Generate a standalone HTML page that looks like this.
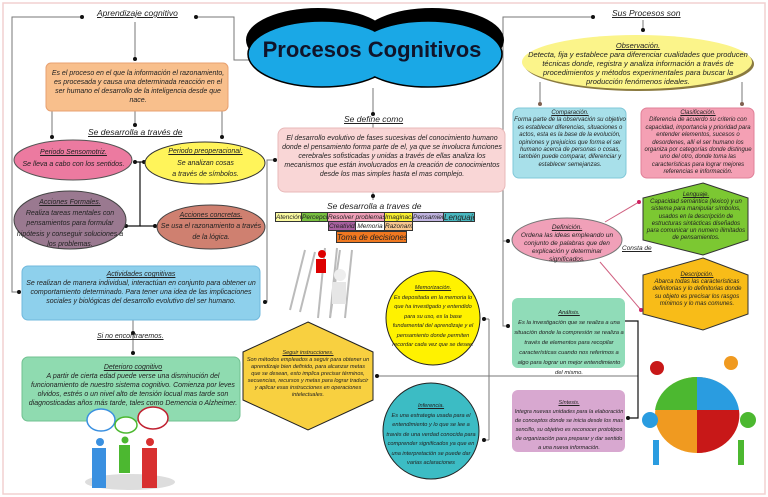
<!DOCTYPE html>
<html><head><meta charset="utf-8"><style>
body{margin:0;background:#fff}
#c{position:relative;width:768px;height:497px;overflow:hidden;background:#fff;font-family:"Liberation Sans",sans-serif;font-style:italic;color:#222}
.t{position:absolute;text-align:center;font-size:7px;line-height:9px}
.u{text-decoration:underline}
.lab{position:absolute;font-size:8.5px;text-decoration:underline;white-space:nowrap}
.tag{position:absolute;height:10px;font-size:6.5px;line-height:10px;text-align:center;border:1px solid #333;box-sizing:border-box;white-space:nowrap;overflow:hidden}
</style></head><body><div id="c">
<svg width="768" height="497" style="position:absolute;left:0;top:0">
<rect x="3" y="3" width="762" height="491" fill="none" stroke="#f2d0d0" stroke-width="1.5"/>
<g stroke="#777" stroke-width="1" fill="none">
<polyline points="82,17 12,17 12,292 19,292"/>
<polyline points="196,17 234,17 234,60 252,60"/>
<line x1="135" y1="22" x2="135" y2="59"/>
<line x1="135" y1="111" x2="135" y2="125"/>
<line x1="52" y1="111" x2="52" y2="137"/>
<line x1="222" y1="111" x2="222" y2="137"/>
<polyline points="275,160 267,160 267,302 265,302"/>
<line x1="133" y1="320" x2="133" y2="353"/>
<line x1="373" y1="88" x2="373" y2="114"/>
<line x1="373" y1="124" x2="373" y2="128"/>
<line x1="373" y1="192" x2="373" y2="200"/>
<polyline points="593,17 503,17 503,326 508,326"/>
<line x1="503" y1="241" x2="508" y2="241"/>
<line x1="643" y1="20" x2="643" y2="30"/>
<line x1="540" y1="82" x2="540" y2="104"/>
<line x1="742" y1="82" x2="742" y2="104"/>
<line x1="377" y1="376" x2="638" y2="376"/>
<line x1="489" y1="319" x2="489" y2="440"/>
<line x1="484" y1="319" x2="489" y2="319"/>
<line x1="484" y1="440" x2="489" y2="440"/>
</g>
<g stroke="#111" stroke-width="1.2" fill="none">
<polyline points="135,162 140,162 140,226 126,226"/><line x1="140" y1="226" x2="155" y2="226"/><line x1="140" y1="162" x2="144" y2="162"/>
<polyline points="625,321 638,321 638,418 628,418"/>
</g>
<g stroke="#d06080" stroke-width="1" fill="none">
<line x1="605" y1="222" x2="639" y2="202"/><line x1="600" y1="262" x2="641" y2="310"/>
</g>
<g fill="#111">
<circle cx="82" cy="17" r="2"/><circle cx="196" cy="17" r="2"/><circle cx="135" cy="59" r="2"/><circle cx="135" cy="125" r="2"/>
<circle cx="52" cy="137" r="2"/><circle cx="222" cy="137" r="2"/><circle cx="135" cy="162" r="2"/><circle cx="144" cy="162" r="2"/>
<circle cx="126" cy="226" r="2"/><circle cx="155" cy="226" r="2"/><circle cx="19" cy="292" r="2"/><circle cx="265" cy="302" r="2"/><circle cx="275" cy="160" r="2"/>
<circle cx="133" cy="333" r="2"/><circle cx="133" cy="353" r="2"/><circle cx="373" cy="114" r="2"/><circle cx="373" cy="196" r="2"/>
<circle cx="593" cy="17" r="2"/><circle cx="643" cy="30" r="2"/><circle cx="508" cy="241" r="2"/><circle cx="508" cy="326" r="2"/>
<circle cx="377" cy="376" r="2"/><circle cx="484" cy="319" r="2"/><circle cx="484" cy="440" r="2"/><circle cx="628" cy="418" r="2"/>
</g>
<circle cx="540" cy="104" r="2" fill="#806050"/><circle cx="742" cy="104" r="2" fill="#806050"/>
<circle cx="639" cy="202" r="2" fill="#d02060"/><circle cx="641" cy="310" r="2" fill="#d02060"/>
<g fill="#000"><ellipse cx="318" cy="40" rx="72" ry="32"/><ellipse cx="432" cy="40" rx="72" ry="32"/></g>
<g fill="#1aa8e6" stroke="#000" stroke-width="1.5"><ellipse cx="322" cy="54" rx="74" ry="33"/><ellipse cx="428" cy="54" rx="74" ry="33"/></g>
<g fill="#1aa8e6"><ellipse cx="322" cy="54" rx="73" ry="32"/><ellipse cx="428" cy="54" rx="73" ry="32"/></g>
<rect x="46" y="63" width="182" height="48" rx="5" fill="#f8bf8c" stroke="#e8a070"/>
<ellipse cx="73" cy="160" rx="59" ry="20" fill="#ec7aa0" stroke="#555"/>
<ellipse cx="205" cy="163" rx="60" ry="21" fill="#fff45a" stroke="#333"/>
<ellipse cx="70" cy="220" rx="56" ry="29" fill="#9a7990" stroke="#444"/>
<ellipse cx="211" cy="227" rx="54" ry="22" fill="#cf8070" stroke="#444"/>
<rect x="22" y="266" width="238" height="54" rx="6" fill="#8ed0ec" stroke="#70b8dc"/>
<rect x="22" y="357" width="218" height="64" rx="6" fill="#8fdbb0" stroke="#70c090"/>
<rect x="278" y="128" width="227" height="64" rx="7" fill="#f9d6d6" stroke="#e8b8b8"/>
<ellipse cx="639" cy="64" rx="115" ry="27" fill="#8a7a40"/>
<ellipse cx="637" cy="62" rx="115" ry="27" fill="#fbf48a"/>
<rect x="513" y="108" width="113" height="70" rx="6" fill="#a8e0ea" stroke="#80c8d8"/>
<rect x="641" y="108" width="113" height="70" rx="6" fill="#f4a0b4" stroke="#e08098"/>
<polygon points="703,183 748,198 748,240 703,255 643,240 643,198" fill="#7cc832" stroke="#333"/>
<polygon points="703,258 748,275 748,314 703,330 643,314 643,275" fill="#f8bc18" stroke="#333"/>
<ellipse cx="567" cy="240" rx="55" ry="22" fill="#f0a0b8" stroke="#777"/>
<circle cx="433" cy="318" r="47" fill="#fff200" stroke="#222"/>
<circle cx="431" cy="431" r="48" fill="#3cbcc4" stroke="#222"/>
<rect x="512" y="298" width="113" height="70" rx="6" fill="#90dcb8"/>
<rect x="512" y="390" width="113" height="62" rx="6" fill="#d8a8d0"/>
<polygon points="308,322 373,352 373,400 308,430 243,400 243,352" fill="#f8d040" stroke="#222"/>
<g stroke="#bbb" stroke-width="2" fill="none">
<line x1="290" y1="310" x2="305" y2="250"/><line x1="300" y1="312" x2="315" y2="252"/>
<line x1="318" y1="318" x2="325" y2="248"/><line x1="330" y1="318" x2="337" y2="248"/>
<line x1="330" y1="318" x2="340" y2="250"/><line x1="345" y1="318" x2="352" y2="250"/>
</g>
<circle cx="322" cy="254" r="4" fill="#d00"/><rect x="316" y="259" width="10" height="14" fill="#d00"/>
<circle cx="340" cy="275" r="6" fill="#eee"/><rect x="332" y="282" width="14" height="22" fill="#e6e6e6"/>
<ellipse cx="130" cy="482" rx="45" ry="8" fill="#ddd"/>
<g fill="#3a90e0"><circle cx="100" cy="442" r="4"/><rect x="92" y="448" width="14" height="40"/></g>
<g fill="#4cb830"><circle cx="125" cy="440" r="3.5"/><rect x="119" y="445" width="11" height="28"/></g>
<g fill="#d83030"><circle cx="150" cy="442" r="4"/><rect x="142" y="448" width="15" height="40"/></g>
<g fill="#fff" stroke-width="1.5"><ellipse cx="101" cy="420" rx="14" ry="11" stroke="#3a90e0"/><ellipse cx="126" cy="425" rx="11" ry="8" stroke="#4cb830"/><ellipse cx="153" cy="418" rx="15" ry="11" stroke="#c02030"/></g>
<ellipse cx="697" cy="415" rx="42" ry="38" fill="#f09a20"/>
<path d="M655,410 A42,38 0 0 1 697,377 L697,410 Z" fill="#4cb830"/>
<path d="M697,377 A42,38 0 0 1 739,410 L697,410 Z" fill="#2a9ce0"/>
<path d="M739,410 A42,38 0 0 1 697,453 L697,410 Z" fill="#c81818"/>
<circle cx="657" cy="368" r="7" fill="#c81818"/><circle cx="731" cy="363" r="7" fill="#f09a20"/>
<circle cx="650" cy="420" r="8" fill="#2a9ce0"/><circle cx="748" cy="420" r="8" fill="#4cb830"/>
<rect x="653" y="440" width="6" height="25" fill="#2a9ce0"/><rect x="738" y="440" width="6" height="25" fill="#4cb830"/>
</svg>
<div style="position:absolute;left:250px;top:37px;width:244px;text-align:center;font:bold 22px 'Liberation Sans',sans-serif;color:#10142a">Procesos Cognitivos</div>
<div class="lab" style="left:97px;top:8px">Aprendizaje cognitivo</div>
<div class="lab" style="left:612px;top:8px">Sus Procesos son</div>
<div class="lab" style="left:88px;top:127px">Se desarrolla a través de</div>
<div class="lab" style="left:344px;top:114px">Se define como</div>
<div class="lab" style="left:327px;top:201px;text-decoration:none">Se desarrolla a traves de</div>
<div class="lab" style="left:97px;top:333px;font-size:7px">Si no encontraremos.</div>
<div class="lab" style="left:622px;top:245px;font-size:6.5px">Consta de</div>
<div class="t" style="left:50px;top:69px;width:176px">Es el proceso en el que la información el razonamiento, es procesada y causa una determinada reacción en el ser humano el desarrollo de la inteligencia desde que nace.</div>
<div class="t" style="left:16px;top:147px;width:115px;line-height:12px"><span class="u">Periodo Sensomotriz.</span><br>Se lleva a cabo con los sentidos.</div>
<div class="t" style="left:148px;top:146px;width:115px;line-height:11.5px"><span class="u">Periodo preoperacional.</span><br>Se analizan cosas<br>a través de símbolos.</div>
<div class="t" style="left:14px;top:198px;width:112px;line-height:10.5px"><span class="u">Acciones Formales.</span><br>Realiza tareas mentales con pensamientos para formular hipótesis y conseguir soluciones a los problemas.</div>
<div class="t" style="left:158px;top:210px;width:106px;line-height:11px"><span class="u">Acciones concretas.</span><br>Se usa el razonamiento a través de la lógica.</div>
<div class="t" style="left:26px;top:270px;width:230px"><span class="u">Actividades cognitivas</span><br>Se realizan de manera individual, interactúan en conjunto para obtener un comportamiento determinado. Para tener una idea de las implicaciones sociales y biológicas del desarrollo evolutivo del ser humano.</div>
<div class="t" style="left:26px;top:363px;width:214px"><span class="u">Deterioro cognitivo</span><br>A partir de cierta edad puede verse una disminución del funcionamiento de nuestro sistema cognitivo. Comienza por leves olvidos, estrés o un nivel alto de tensión locual mas tarde son diagnosticadas años más tarde, tales como Demencia o Alzheimer.</div>
<div class="t" style="left:282px;top:134px;width:220px">El desarrollo evolutivo de fases sucesivas del conocimiento humano donde el pensamiento forma parte de el, ya que se involucra funciones cerebrales sofisticadas y unidas a través de ellas analiza los mecanismos que están involucrados en la creación de conocimientos desde los mas simples hasta el mas complejo.</div>
<div class="tag" style="left:275px;top:212px;width:27px;background:#fafaa0">Atención</div>
<div class="tag" style="left:301px;top:212px;width:27px;background:#78c040">Percepción</div>
<div class="tag" style="left:327px;top:212px;width:58px;background:#f0a0b8">Resolver problemas</div>
<div class="tag" style="left:384px;top:212px;width:29px;background:#f8f030">Imaginación</div>
<div class="tag" style="left:412px;top:212px;width:32px;background:#c0b4e0">Pensamiento</div>
<div class="tag" style="left:443px;top:212px;width:32px;background:#48b8c0;font-size:8px">Lenguaje</div>
<div class="tag" style="left:328px;top:221px;width:28px;background:#a860a0">Creatividad</div>
<div class="tag" style="left:355px;top:221px;width:30px;background:#fff">Memoria</div>
<div class="tag" style="left:384px;top:221px;width:29px;background:#f8c890">Razonamiento</div>
<div class="tag" style="left:336px;top:231px;width:71px;height:12px;background:#f07820;font-size:8px;line-height:12px">Toma de decisiones</div>
<div class="t" style="left:528px;top:41px;width:220px;font-size:7.5px;line-height:9px"><span class="u">Observación.</span><br>Detecta, fija y establece para diferenciar cualidades que producen técnicas donde, registra y analiza información a través de procedimientos y métodos experimentales para buscar la producción fenómenos ideales.</div>
<div class="t" style="left:514px;top:110px;width:112px;font-size:6px;line-height:7.4px"><span class="u">Comparación.</span><br>Forma parte de la observación su objetivo es establecer diferencias, situaciones o actos, esta es la base de la evolución, opiniones y prejuicios que forma el ser humano acerca de personas o cosas, también puede comparar, diferenciar y establecer semejanzas.</div>
<div class="t" style="left:642px;top:110px;width:112px;font-size:6px;line-height:7.4px"><span class="u">Clasificación.</span><br>Diferencia de acuerdo su criterio con capacidad, importancia y prioridad para entender elementos, sucesos o desordenes, allí el ser humano los organiza por categorías donde distingue uno del otro, donde toma las características para lograr mejores referencias e información.</div>
<div class="t" style="left:645px;top:192px;width:102px;font-size:6px;line-height:7.2px"><span class="u">Lenguaje.</span><br>Capacidad semántica (léxico) y un sistema para manipular símbolos, usados en la descripción de estructuras sintácticas diseñados para comunicar un numero ilimitados de pensamientos.</div>
<div class="t" style="left:650px;top:272px;width:94px;font-size:6px;line-height:7.2px"><span class="u">Descripción.</span><br>Abarca todas las características definitorias y lo definitorias donde su objeto es precisar los rasgos mínimos y lo mas comunes.</div>
<div class="t" style="left:514px;top:224px;width:106px;font-size:6.5px;line-height:8px"><span class="u">Definición.</span><br>Ordena las ideas empleando un conjunto de palabras que den explicación y determinar significados.</div>
<div class="t" style="left:390px;top:284px;width:86px;font-size:5.6px;line-height:9.5px"><span class="u">Memorización.</span><br>Es depositada en la memoria lo que ha investigado y entendido para su uso, es la base fundamental del aprendizaje y el pensamiento donde permiten recordar cada vez que se desee.</div>
<div class="t" style="left:386px;top:402px;width:90px;font-size:5.6px;line-height:9.5px"><span class="u">Inferencia.</span><br>Es una estrategia usada para el entendimiento y lo que se lee a través de una verdad conocida para comprender significados ya que en una interpretación se puede dar varias aclaraciones</div>
<div class="t" style="left:514px;top:308px;width:110px;font-size:5.8px;line-height:10px"><span class="u">Análisis.</span><br>Es la investigación que se realiza a una situación donde la compresión se realiza a través de elementos para recopilar características cuando nos referimos a algo para lograr un mejor entendimiento del mismo.</div>
<div class="t" style="left:514px;top:399px;width:110px;font-size:5.5px;line-height:9px"><span class="u">Síntesis.</span><br>Integra nuevas unidades para la elaboración de conceptos donde se inicia desde los mas sencillo, su objetivo es reconocer prototipos de organización para preparar y dar sentido a una nueva información.</div>
<div class="t" style="left:246px;top:350px;width:124px;font-size:5.5px;line-height:7px"><span class="u">Seguir instrucciones.</span><br>Son métodos empleados a seguir para obtener un aprendizaje bien definido, para alcanzar metas que se desean, esto implica precisar términos, secuencias, recursos y metas para lograr traducir y aplicar esas instrucciones en operaciones intelectuales.</div>
</div></body></html>
